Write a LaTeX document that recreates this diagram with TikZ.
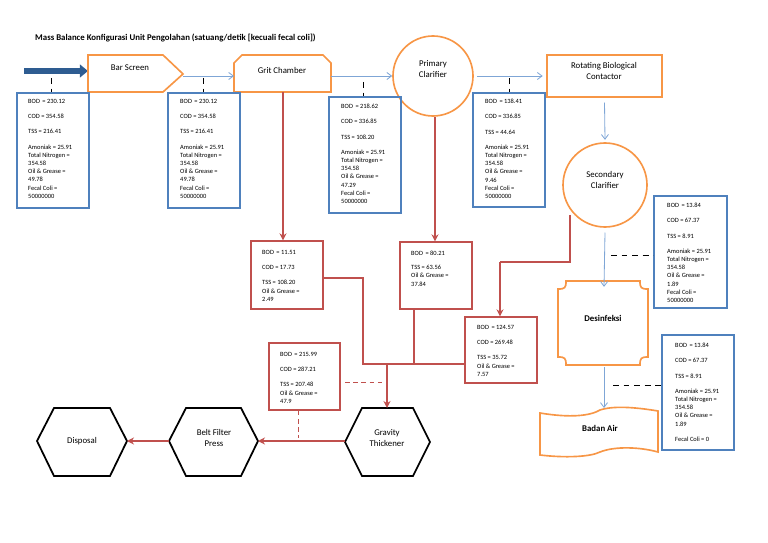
\documentclass[tikz,border=0pt]{standalone}
\usepackage{fontspec}
\setmainfont{Carlito}
\usetikzlibrary{fit,arrows.meta}
\definecolor{org}{HTML}{F79646}
\definecolor{bbl}{HTML}{4F81BD}
\definecolor{rd}{HTML}{C0504D}
\definecolor{lbl}{HTML}{7FA6D6}
\definecolor{dbl}{HTML}{2E5C91}
\begin{document}
\begin{tikzpicture}[x=0.03cm,y=-0.03cm,
  bbox/.style={draw=bbl,line width=1.4pt,inner sep=0pt},
  rbox/.style={draw=rd,line width=1.1pt,inner sep=0pt},
  btxt/.style={anchor=north west,inner sep=0pt,align=left,font=\fontsize{5.5}{7}\selectfont},
  shp/.style={draw=org,line width=1.4pt},
  hexs/.style={draw=black,line width=1.5pt},
  lab/.style={font=\fontsize{7.5}{10}\selectfont,align=center,inner sep=0pt},
  flow/.style={draw=lbl,line width=0.7pt,-{Straight Barb[length=4pt,width=6pt]}},
  rflow/.style={draw=rd,line width=1.6pt,-{Stealth[length=6pt,width=6pt]}},
  rline/.style={draw=rd,line width=1.6pt},
  dsh/.style={draw=black,line width=0.8pt,dash pattern=on 5pt off 4pt},
  rdsh/.style={draw=rd,line width=0.7pt,dash pattern=on 4pt off 3pt}]
\useasboundingbox (0,0) rectangle (768,543);
\node[anchor=west,inner sep=0pt,font=\bfseries\fontsize{7.5}{9}\selectfont] (title) at (35,38) {Mass Balance Konfigurasi Unit Pengolahan (satuang/detik [kecuali fecal coli])};
% input arrow
\coordinate (in0) at (24,71);
\coordinate (bsW) at (88,71);
\draw[dbl,line width=5pt,-{Triangle[length=7pt,width=11pt]}] (in0) -- (bsW);
% Bar screen
\draw[shp] (88,55) -- (163,55) -- (183,74) -- (163,92) -- (88,92) -- cycle;
\coordinate (bsE) at (183,76);
\node[lab] (bs) at (130,68) {Bar Screen};
% Grit chamber
\draw[shp] (242,55) -- (323,55) -- (331,63) -- (331,92) -- (234,92) -- (234,63) -- cycle;
\coordinate (gcW) at (234,76);\coordinate (gcE) at (331,76);\coordinate (gcS) at (283,92);
\node[lab] (gc) at (282,70) {Grit Chamber};
% Primary clarifier
\node[shp,circle,minimum size=80*0.03cm,inner sep=0pt] (pc) at (433,76) {};
\node[lab] (pct) at (433,69) {Primary\\Clarifier};
% RBC
\node[shp,fit={(547,55)(662,97)},inner sep=0pt] (rbc) {};
\node[lab] (rbct) at (604,71) {Rotating Biological\\Contactor};
% Secondary clarifier
\node[shp,circle,minimum size=84*0.03cm,inner sep=0pt] (sc) at (605,185) {};
\node[lab] (sct) at (605,180) {Secondary\\Clarifier};
% Desinfeksi
\draw[shp] (566,281) -- (640,281) .. controls (640,288) and (641,289) .. (648,289)
  -- (648,357) .. controls (641,357) and (640,358) .. (640,365)
  -- (566,365) .. controls (566,358) and (565,357) .. (558,357)
  -- (558,289) .. controls (565,289) and (566,288) .. (566,281) -- cycle;
\coordinate (dsN) at (604,281);\coordinate (dsS) at (604,365);
\node[lab,font=\bfseries\fontsize{7.5}{10}\selectfont] (ds) at (603,318) {Desinfeksi};
% Badan Air
\draw[shp] (540,413) .. controls (570,418) and (590,416) .. (600,410) .. controls (615,405) and (640,408) .. (658,411)
  -- (658,452) .. controls (640,447) and (615,446) .. (600,452) .. controls (590,457) and (565,458) .. (540,455) -- cycle;
\coordinate (baN) at (604,408);
\node[lab,font=\bfseries\fontsize{7.5}{10}\selectfont] (ba) at (600,428) {Badan Air};
% flows
\draw[flow] (bsE) -- (gcW);
\draw[flow] (gcE) -- (pc.west);
\draw[flow] ([xshift=3pt]pc.east) -- ([xshift=-3pt]rbc.west);
\draw[flow] ([yshift=-4pt]rbc.south) -- ([yshift=2pt]sc.north);
\draw[flow] ([yshift=-4pt]sc.south) -- ([yshift=-5pt]dsN);
\draw[flow] ([yshift=-2pt]dsS) -- (baN);
% blue boxes
\node[bbox,fit={(17,93)(89,208)}] (b1) {};
\node[bbox,fit={(168,93)(240,208)}] (b2) {};
\node[bbox,fit={(329,97)(401,213)}] (b3) {};
\node[bbox,fit={(473,93)(545,207)}] (b4) {};
\node[bbox,fit={(654,196)(727,308)}] (b5) {};
\node[bbox,fit={(662,335)(734,450)}] (b6) {};
\node[btxt] (t1) at (28,99) {BOD \,= 230.12\\[6pt]COD = 354.58\\[6pt]TSS = 216.41\\[6pt]Amoniak = 25.91\\Total Nitrogen =\\354.58\\Oil \& Grease =\\49.78\\Fecal Coli =\\50000000};
\node[btxt] (t2) at (180,99) {BOD \,= 230.12\\[6pt]COD = 354.58\\[6pt]TSS = 216.41\\[6pt]Amoniak = 25.91\\Total Nitrogen =\\354.58\\Oil \& Grease =\\49.78\\Fecal Coli =\\50000000};
\node[btxt] (t3) at (341,104) {BOD \,= 218.62\\[6pt]COD = 336.85\\[6pt]TSS = 108.20\\[6pt]Amoniak = 25.91\\Total Nitrogen =\\354.58\\Oil \& Grease =\\47.29\\Fecal Coli =\\50000000};
\node[btxt] (t4) at (485,99) {BOD \,= 138.41\\[6pt]COD = 336.85\\[6pt]TSS = 44.64\\[6pt]Amoniak = 25.91\\Total Nitrogen =\\354.58\\Oil \& Grease =\\9.46\\Fecal Coli =\\50000000};
\node[btxt] (t5) at (667,203) {BOD \,= 13.84\\[6pt]COD = 67.37\\[6pt]TSS = 8.91\\[6pt]Amoniak = 25.91\\Total Nitrogen =\\354.58\\Oil \& Grease =\\1.89\\Fecal Coli =\\50000000};
\node[btxt] (t6) at (675,343) {BOD \,= 13.84\\[6pt]COD = 67.37\\[6pt]TSS = 8.91\\[6pt]Amoniak = 25.91\\Total Nitrogen =\\354.58\\Oil \& Grease =\\1.89\\[6pt]Fecal Coli = 0};
% dashes to blue boxes
\coordinate (d1) at (51,78);\coordinate (d2) at (203,78);\coordinate (d3) at (363,82);\coordinate (d4) at (509,78);
\draw[dsh] (d1) -- (d1 |- b1.north);
\draw[dsh] (d2) -- (d2 |- b2.north);
\draw[dsh] (d3) -- (d3 |- b3.north);
\draw[dsh] (d4) -- (d4 |- b4.north);
\coordinate (d5) at (611,255);\coordinate (d6) at (613,385);
\draw[dsh] (d5) -- (d5 -| b5.west);
\draw[dsh] (d6) -- (d6 -| b6.west);
% red boxes
\node[rbox,fit={(251,241)(323,309)}] (r1) {};
\node[rbox,fit={(400,242)(472,309)}] (r2) {};
\node[rbox,fit={(465,317)(537,383)}] (r3) {};
\node[rbox,fit={(269,343)(340,410)}] (r4) {};
\node[btxt] (rt1) at (262,250) {BOD \,= 11.51\\[6pt]COD = 17.73\\[6pt]TSS = 108.20\\Oil \& Grease =\\2.49};
\node[btxt] (rt2) at (411,251) {BOD \,= 80.21\\[5pt]TSS = 63.56\\Oil \& Grease =\\37.84};
\node[btxt] (rt3) at (477,325) {BOD \,= 124.57\\[6pt]COD = 269.48\\[6pt]TSS = 35.72\\Oil \& Grease =\\7.57};
\node[btxt] (rt4) at (280,352) {BOD \,= 215.99\\[6pt]COD = 287.21\\[6pt]TSS = 207.48\\Oil \& Grease =\\47.9};
% hexagons
\draw[hexs] (345,442) -- (362,408) -- (413,408) -- (430,442) -- (413,476) -- (362,476) -- cycle;
\draw[hexs] (169,441) -- (186,408) -- (241,408) -- (258,441) -- (241,476) -- (186,476) -- cycle;
\draw[hexs] (37,441) -- (54,408) -- (110,408) -- (127,441) -- (110,476) -- (54,476) -- cycle;
\coordinate (gtN) at (387,408);\coordinate (gtW) at (345,441);
\coordinate (bfE) at (258,441);\coordinate (bfW) at (169,441);\coordinate (dpE) at (127,441);
\node[lab] (gt) at (387,438) {Gravity\\Thickener};
\node[lab] (bf) at (214,438) {Belt Filter\\Press};
\node[lab] (dp) at (82,441) {Disposal};
% red flows
\draw[rflow] (gcS) -- (r1.north -| gcS);
\coordinate (pcs) at (435,117);
\draw[rflow] (pcs) -- (r2.north -| pcs);
\coordinate (sc1) at (570,215);\coordinate (sc2) at (570,262);\coordinate (sc3) at (500,262);
\draw[rline] (sc1) -- (sc2) -- (sc3);
\draw[rflow] (sc3) -- (r3.north -| sc3);
\coordinate (j1) at (363,278);\coordinate (j2) at (363,364);\coordinate (j3) at (387,364);\coordinate (j4) at (414,364);
\draw[rline] (r1.east |- j1) -- (j1) -- (j2) -- (r3.west |- j2);
\draw[rline] (r2.south -| j4) -- (j4);
\draw[rflow] (j3) -- (gtN);
\draw[rflow] (gtW) -- (bfE);
\draw[rflow] (bfW) -- (dpE);
\coordinate (k1) at (345,382);\coordinate (k2) at (298,438);
\draw[rdsh] (k1) -- (384,382);
\draw[rdsh] (r4.south -| k2) -- (k2);
\end{tikzpicture}
\end{document}
